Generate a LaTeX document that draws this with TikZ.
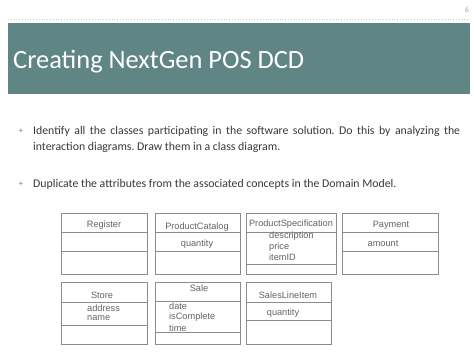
\documentclass[tikz,border=0pt]{standalone}
\usepackage{fontspec}
\setmainfont{Carlito}
\newfontfamily\umlfont{Liberation Sans}
\definecolor{barteal}{HTML}{5F8684}
\definecolor{umlline}{HTML}{8C8C8C}
\definecolor{umltext}{HTML}{626262}
\definecolor{bodytext}{HTML}{383838}
\frenchspacing
\begin{document}
\begin{tikzpicture}[x=1pt, y=-1pt,
  comp/.style={draw=umlline, line width=0.8pt, anchor=north west, inner sep=0pt},
  cname/.style={font=\umlfont\fontsize{9.2}{10}\selectfont, text=umltext, inner sep=0pt},
  attr/.style={cname, anchor=west},
  txt/.style={font=\fontsize{11.8}{16}\selectfont, text=bodytext, anchor=north west, inner sep=0pt},
  plus/.style={font=\fontsize{8.5}{8}\selectfont, text=barteal, inner sep=0pt}]
  \useasboundingbox (0,0) rectangle (474,355);
  % header
  \node[font=\fontsize{8}{8}\selectfont, text=gray!70, inner sep=0pt] (pg) at (467,10) {6};
  \coordinate (rl) at (8,19);
  \coordinate (rr) at (470,19);
  \draw[gray!45, dotted, line width=0.8pt] (rl) -- (rr);
  \node[fill=barteal, anchor=north west, minimum width=462, minimum height=71, inner sep=0pt] (bar) at (8,23) {};
  \node[font=\fontsize{26.4}{28}\selectfont, text=white, anchor=base west, inner sep=0pt] (title) at (13,68.5) {Creating NextGen POS DCD};
  % bullets
  \node[plus] (p1) at (21,131) {+};
  \node[txt, text width=427, align=justify] (b1) at (33,126) {Identify all the classes participating in the software solution. Do this by analyzing the\linebreak interaction diagrams. Draw them in a class diagram.};
  \node[plus] (p2) at (21,184) {+};
  \node[txt] (b2) at (33,179) {Duplicate the attributes from the associated concepts in the Domain Model.};
  % Register
  \node[comp, minimum width=86, minimum height=19] (reg) at (61,213) {};
  \node[comp, minimum width=86, minimum height=19] (reg-a) at (61,232) {};
  \node[comp, minimum width=86, minimum height=23] (reg-o) at (61,251) {};
  \node[cname] (reg-t) at (104,225) {Register};
  % ProductCatalog
  \node[comp, minimum width=85, minimum height=19] (cat) at (155,213) {};
  \node[comp, minimum width=85, minimum height=19] (cat-a) at (155,232) {};
  \node[comp, minimum width=85, minimum height=23] (cat-o) at (155,251) {};
  \node[cname] (cat-t) at (197,227) {ProductCatalog};
  \node[cname] (cat-q) at (197,244) {quantity};
  % ProductSpecification
  \node[comp, minimum width=90, minimum height=19] (spec) at (246,213) {};
  \node[comp, minimum width=90, minimum height=32] (spec-a) at (246,232) {};
  \node[comp, minimum width=90, minimum height=10] (spec-o) at (246,264) {};
  \node[cname] (spec-t) at (291,224) {ProductSpecification};
  \node[attr] (spec-d) at (269,236) {description};
  \node[attr] (spec-p) at (269,247) {price};
  \node[attr] (spec-i) at (269,257) {itemID};
  % Payment
  \node[comp, minimum width=96, minimum height=19] (pay) at (342,213) {};
  \node[comp, minimum width=96, minimum height=19] (pay-a) at (342,232) {};
  \node[comp, minimum width=96, minimum height=23] (pay-o) at (342,251) {};
  \node[cname] (pay-t) at (391,225) {Payment};
  \node[cname] (pay-m) at (383,244) {amount};
  % Store
  \node[comp, minimum width=86, minimum height=20] (store) at (61,282) {};
  \node[comp, minimum width=86, minimum height=23] (store-a) at (61,302) {};
  \node[comp, minimum width=86, minimum height=19] (store-o) at (61,325) {};
  \node[cname] (store-t) at (102,295) {Store};
  \node[attr] (store-ad) at (87,308) {address};
  \node[attr] (store-n) at (87,318) {name};
  % Sale
  \node[comp, minimum width=85, minimum height=19] (sale) at (155,282) {};
  \node[comp, minimum width=85, minimum height=31] (sale-a) at (155,301) {};
  \node[comp, minimum width=85, minimum height=12] (sale-o) at (155,332) {};
  \node[cname] (sale-t) at (199,288) {Sale};
  \node[attr] (sale-d) at (169,306) {date};
  \node[attr] (sale-c) at (169,317) {isComplete};
  \node[attr] (sale-tm) at (169,328) {time};
  % SalesLineItem
  \node[comp, minimum width=85, minimum height=20] (sli) at (246,282) {};
  \node[comp, minimum width=85, minimum height=18] (sli-a) at (246,302) {};
  \node[comp, minimum width=85, minimum height=24] (sli-o) at (246,320) {};
  \node[cname] (sli-t) at (288,295) {SalesLineItem};
  \node[cname] (sli-q) at (283,313) {quantity};
\end{tikzpicture}
\end{document}
